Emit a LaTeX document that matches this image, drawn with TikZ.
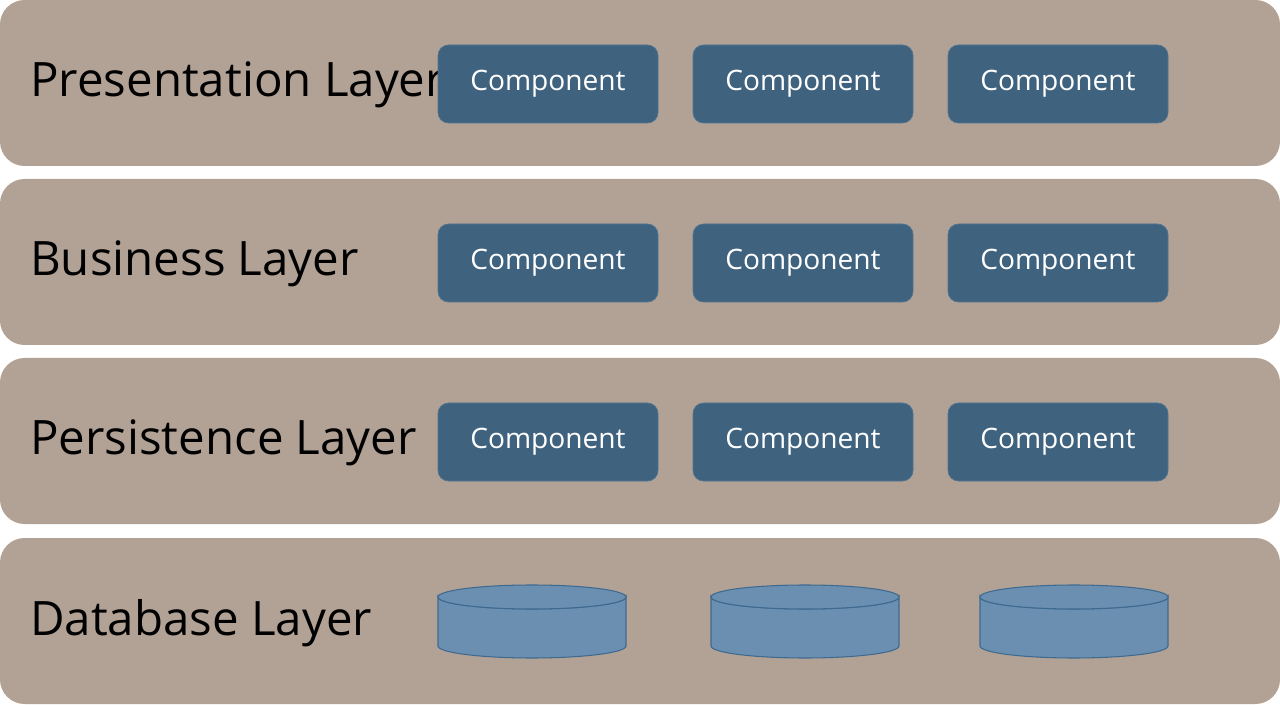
\documentclass[tikz,border=0pt]{standalone}
\usepackage{fontspec}
\setmainfont{Open Sans}
\usetikzlibrary{positioning}

\definecolor{layerbg}{HTML}{B2A296}
\definecolor{compfill}{HTML}{3F627F}
\definecolor{compline}{HTML}{4E7390}
\definecolor{dbfill}{HTML}{6A8FB1}
\definecolor{dbline}{HTML}{3F6A90}

\tikzset{
  layerbox/.style={fill=layerbg, draw=none, rounded corners=14pt},
  layertext/.style={anchor=west, font=\fontsize{27}{30}\selectfont, text=black},
  compbox/.style={fill=compfill, draw=compline, rounded corners=6pt,
    minimum width=220*0.02cm, minimum height=78*0.02cm,
    text=white, font=\fontsize{16}{18}\selectfont},
  dbpart/.style={fill=dbfill, draw=dbline, line width=0.6pt}
}

\begin{document}
\begin{tikzpicture}[x=0.02cm, y=-0.02cm]
  \useasboundingbox (0,0) rectangle (1280,705);

  % layers
  \foreach \y/\name/\txt in {0/pres/Presentation Layer, 179/bus/Business Layer,
                              358/pers/Persistence Layer, 538/db/Database Layer} {
    \fill[layerbox] (0,\y) rectangle (1280,\y+166);
    \node[layertext] (\name) at (24,\y+85) {\txt};
  }

  % components
  \foreach \y/\name in {84/pres, 263/bus, 442/pers} {
    \foreach \x [count=\i] in {548, 803, 1058} {
      \node[compbox] (\name\i) at (\x,\y) {Component};
    }
  }

  % databases
  \foreach \x [count=\i] in {532, 805, 1074} {
    \coordinate (store\i) at (\x,597);
    \path[dbpart] ([xshift=-94*0.02cm]store\i) -- ++(0,49)
      arc[start angle=180, end angle=360, x radius=94, y radius=-12]
      -- ++(0,-49) arc[start angle=0, end angle=180, x radius=94, y radius=12] -- cycle;
    \path[dbpart] (store\i) ellipse[x radius=94, y radius=12];
  }
\end{tikzpicture}
\end{document}
